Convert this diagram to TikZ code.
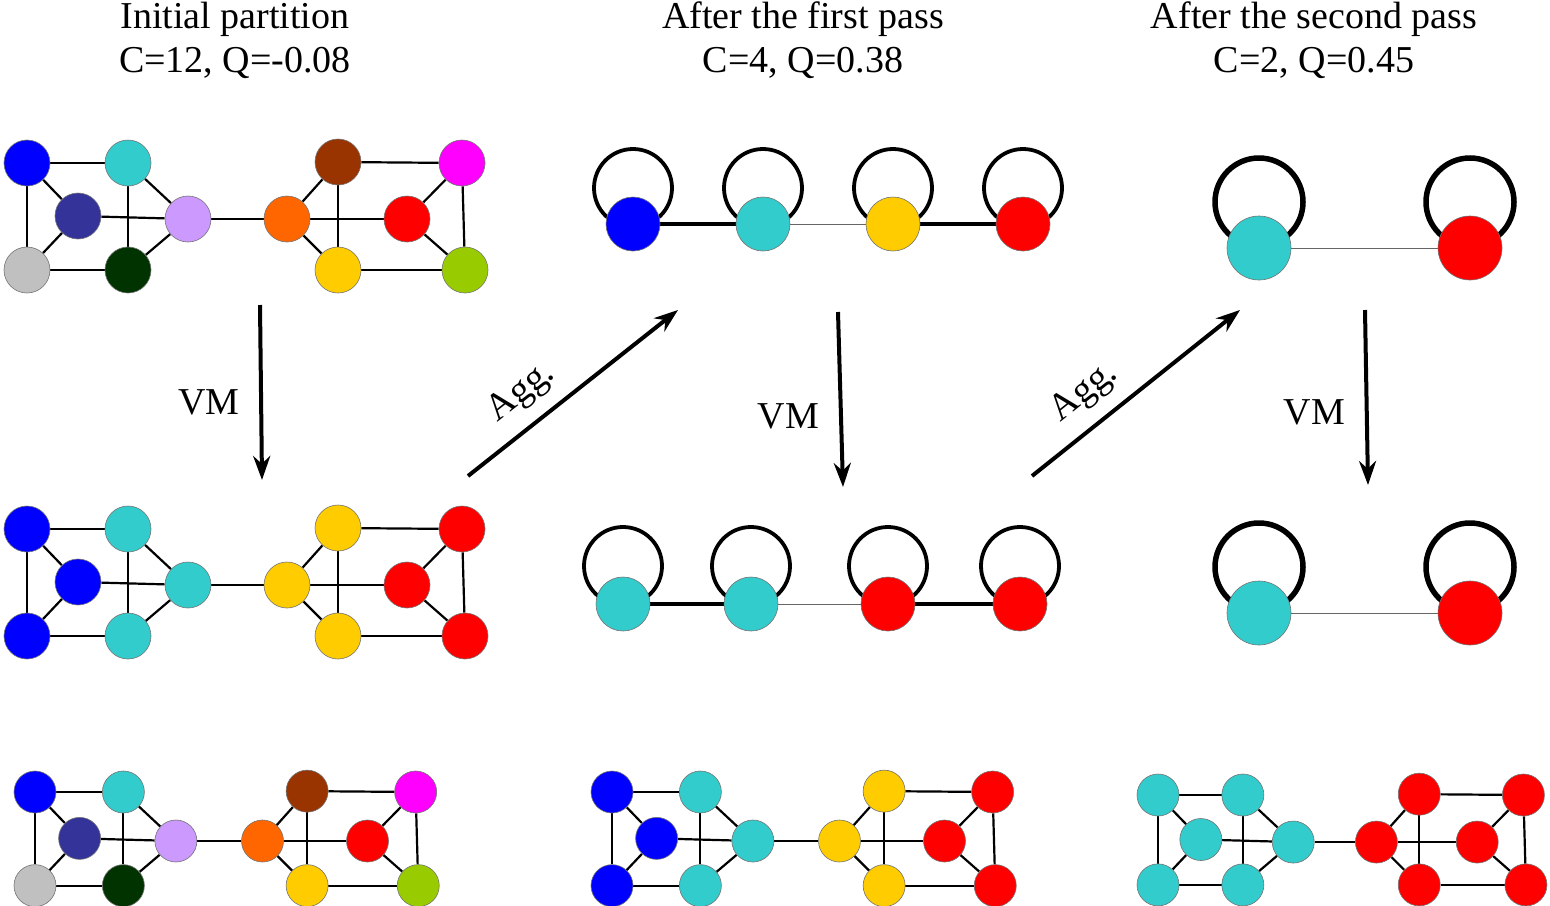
\documentclass[tikz,border=0pt]{standalone}
\usepackage{fontspec}
\setmainfont{Liberation Serif}
\usetikzlibrary{arrows.meta,backgrounds,math}
\definecolor{cblue}{HTML}{0000FF}
\definecolor{ccyan}{HTML}{33CCCC}
\definecolor{cnavy}{HTML}{333399}
\definecolor{clilac}{HTML}{CC99FF}
\definecolor{cgray}{HTML}{C0C0C0}
\definecolor{cdkgreen}{HTML}{003300}
\definecolor{corange}{HTML}{FF6600}
\definecolor{cbrown}{HTML}{993300}
\definecolor{cmagenta}{HTML}{FF00FF}
\definecolor{cred}{HTML}{FF0000}
\definecolor{cyellow}{HTML}{FFCC00}
\definecolor{clime}{HTML}{99CC00}

% node positions of the full graph, relative to its first node
\def\gx{{0,101,51,161,0,101,260,311,435,380,311,438}}
\def\gy{{0,0,53,56,107,107,56,-1,0,56,107,107}}
\def\gedges{0/1,0/2,0/4,1/5,1/3,2/3,2/4,4/5,5/3,3/6,6/7,6/9,6/10,7/8,7/10,8/9,8/11,9/11,10/11}

% #1 prefix, #2 origin, #3 scale, #4 radius, #5 colours
\newcommand\fullgraph[5]{
  \begin{scope}[shift={#2}]
    \foreach \c [count=\i from 0] in {#5} {
      \pgfmathsetmacro\px{#3*\gx[\i]}
      \pgfmathsetmacro\py{#3*\gy[\i]}
      \node[vertex, minimum size=2*#4, fill=\c] (#1\i) at (\px,\py) {};
    }
    \begin{scope}[on background layer]
      \foreach \a/\b in \gedges
        \draw[link] (#1\a) -- (#1\b);
    \end{scope}
  \end{scope}
}

\begin{document}
\begin{tikzpicture}[x=1pt, y=-1pt,
  vertex/.style={circle, draw=black!55, line width=0.6pt, inner sep=0pt},
  link/.style={line width=2.2pt},
  heavy/.style={line width=3.4pt},
  light/.style={line width=0.9pt, black!60},
  selfloop/.style={line width=#1},
  selfloop/.default=3.8pt,
  passarrow/.style={line width=4pt, -{Stealth[length=24pt, width=17pt]}},
  passlabel/.style={font=\fontsize{38}{44}\selectfont},
  title/.style={font=\fontsize{38}{44}\selectfont, align=center}]

\useasboundingbox (0,0) rectangle (1550,905);

% titles
\node[title] (t1) at (235,40) {Initial partition\\C=12, Q=-0.08};
\node[title] (t2) at (803,40) {After the first pass\\C=4, Q=0.38};
\node[title] (t3) at (1314,40) {After the second pass\\C=2, Q=0.45};

% original graph
\fullgraph{a}{(27,163)}{1}{23}{cblue,ccyan,cnavy,clilac,cgray,cdkgreen,corange,cbrown,cmagenta,cred,cyellow,clime}
\fullgraph{b}{(27,529)}{1}{23}{cblue,ccyan,cblue,ccyan,cblue,ccyan,cyellow,cyellow,cred,cred,cyellow,cred}

% bottom row
\fullgraph{c}{(35,792)}{0.875}{21}{cblue,ccyan,cnavy,clilac,cgray,cdkgreen,corange,cbrown,cmagenta,cred,cyellow,clime}
\fullgraph{d}{(612,792)}{0.875}{21}{cblue,ccyan,cblue,ccyan,cblue,ccyan,cyellow,cyellow,cred,cred,cyellow,cred}
\fullgraph{e}{(1158,795)}{0.84}{21}{ccyan,ccyan,ccyan,ccyan,ccyan,ccyan,cred,cred,cred,cred,cred,cred}

% first pass
\foreach \c [count=\i] in {cblue,ccyan,cyellow,cred} {
  \pgfmathsetmacro\px{633+130*(\i-1)}
  \draw[selfloop] (\px,188) circle (39);
  \node[vertex, minimum size=54pt, fill=\c] (f\i) at (\px,224) {};
}
\begin{scope}[on background layer]
  \draw[heavy] (f1) -- (f2);
  \draw[light] (f2) -- (f3);
  \draw[heavy] (f3) -- (f4);
\end{scope}
\foreach \c/\x [count=\i] in {ccyan/623,ccyan/751,cred/888,cred/1020} {
  \draw[selfloop] (\x,566) circle (39);
  \node[vertex, minimum size=54pt, fill=\c] (g\i) at (\x,604) {};
}
\begin{scope}[on background layer]
  \draw[heavy] (g1) -- (g2);
  \draw[light] (g2) -- (g3);
  \draw[heavy] (g3) -- (g4);
\end{scope}

% second pass
\foreach \c/\x [count=\i] in {ccyan/1259,cred/1470} {
  \draw[selfloop=5.5pt] (\x,202) circle (44);
  \node[vertex, minimum size=64pt, fill=\c] (h\i) at (\x,248) {};
  \draw[selfloop=5.5pt] (\x,567) circle (44);
  \node[vertex, minimum size=64pt, fill=\c] (k\i) at (\x,613) {};
}
\begin{scope}[on background layer]
  \draw[light] (h1) -- (h2);
  \draw[light] (k1) -- (k2);
\end{scope}

% steps
\coordinate (s1) at (260,305);  \coordinate (e1) at (262,480);
\coordinate (s2) at (468,476);  \coordinate (e2) at (678,310);
\coordinate (s3) at (838,312);  \coordinate (e3) at (843,487);
\coordinate (s4) at (1032,476); \coordinate (e4) at (1240,310);
\coordinate (s5) at (1365,310); \coordinate (e5) at (1368,485);
\draw[passarrow] (s1) -- (e1) node[passlabel, midway, left=16pt, yshift=-10pt] {VM};
\draw[passarrow] (s2) -- (e2) node[passlabel, midway, sloped, above=10pt, xshift=-40pt] {Agg.};
\draw[passarrow] (s3) -- (e3) node[passlabel, midway, left=16pt, yshift=-17pt] {VM};
\draw[passarrow] (s4) -- (e4) node[passlabel, midway, sloped, above=10pt, xshift=-40pt] {Agg.};
\draw[passarrow] (s5) -- (e5) node[passlabel, midway, left=16pt, yshift=-15pt] {VM};

\end{tikzpicture}
\end{document}
